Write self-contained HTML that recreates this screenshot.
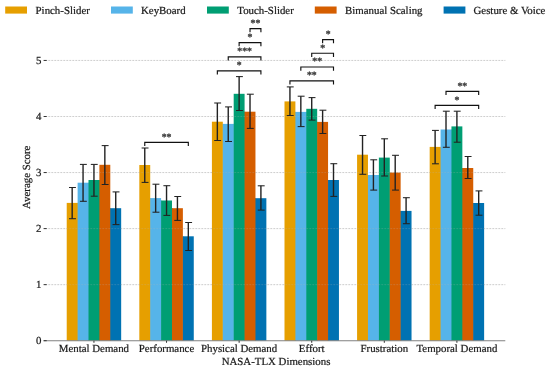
<!DOCTYPE html>
<html><head><meta charset="utf-8"><style>
html,body{margin:0;padding:0;background:#fff;}
body{width:550px;height:370px;overflow:hidden;}
svg{display:block;will-change:transform;}
text{text-rendering:geometricPrecision;stroke:#1a1a1a;stroke-width:0.22px;}
.t{font-family:"Liberation Serif",serif;font-size:10.85px;fill:#1a1a1a;}
.s{font-family:"Liberation Serif",serif;font-size:9.7px;fill:#444;stroke:#444;stroke-width:0.45px;}
</style></head><body>
<svg width="550" height="370" viewBox="0 0 550 370">
<rect width="550" height="370" fill="#fff"/>
<line x1="43.5" y1="284.65" x2="505.3" y2="284.65" stroke="#a8a8a8" stroke-opacity="0.6" stroke-width="0.8" stroke-dasharray="1.8,1.2" stroke-dashoffset="1.1"/>
<line x1="43.5" y1="228.60" x2="505.3" y2="228.60" stroke="#a8a8a8" stroke-opacity="0.6" stroke-width="0.8" stroke-dasharray="1.8,1.2" stroke-dashoffset="1.1"/>
<line x1="43.5" y1="172.55" x2="505.3" y2="172.55" stroke="#a8a8a8" stroke-opacity="0.6" stroke-width="0.8" stroke-dasharray="1.8,1.2" stroke-dashoffset="1.1"/>
<line x1="43.5" y1="116.50" x2="505.3" y2="116.50" stroke="#a8a8a8" stroke-opacity="0.6" stroke-width="0.8" stroke-dasharray="1.8,1.2" stroke-dashoffset="1.1"/>
<line x1="43.5" y1="60.45" x2="505.3" y2="60.45" stroke="#a8a8a8" stroke-opacity="0.6" stroke-width="0.8" stroke-dasharray="1.8,1.2" stroke-dashoffset="1.1"/>
<rect x="66.72" y="202.90" width="10.89" height="137.80" fill="#E69F00"/>
<rect x="77.11" y="202.90" width="1.1" height="137.80" fill="#E69F00"/>
<rect x="77.62" y="182.70" width="10.89" height="158.00" fill="#56B4E9"/>
<rect x="88.01" y="182.70" width="1.1" height="158.00" fill="#56B4E9"/>
<rect x="88.50" y="180.00" width="10.89" height="160.70" fill="#009E73"/>
<rect x="98.89" y="180.00" width="1.1" height="160.70" fill="#009E73"/>
<rect x="99.40" y="164.80" width="10.89" height="175.90" fill="#D55E00"/>
<rect x="109.79" y="208.20" width="1.1" height="132.50" fill="#D55E00"/>
<rect x="110.28" y="208.20" width="10.89" height="132.50" fill="#0072B2"/>
<rect x="139.32" y="165.00" width="10.89" height="175.70" fill="#E69F00"/>
<rect x="149.71" y="198.10" width="1.1" height="142.60" fill="#E69F00"/>
<rect x="150.21" y="198.10" width="10.89" height="142.60" fill="#56B4E9"/>
<rect x="160.60" y="200.50" width="1.1" height="140.20" fill="#56B4E9"/>
<rect x="161.10" y="200.50" width="10.89" height="140.20" fill="#009E73"/>
<rect x="171.49" y="208.20" width="1.1" height="132.50" fill="#009E73"/>
<rect x="171.99" y="208.20" width="10.89" height="132.50" fill="#D55E00"/>
<rect x="182.38" y="236.30" width="1.1" height="104.40" fill="#D55E00"/>
<rect x="182.88" y="236.30" width="10.89" height="104.40" fill="#0072B2"/>
<rect x="211.91" y="121.70" width="10.89" height="219.00" fill="#E69F00"/>
<rect x="222.30" y="123.90" width="1.1" height="216.80" fill="#E69F00"/>
<rect x="222.79" y="123.90" width="10.89" height="216.80" fill="#56B4E9"/>
<rect x="233.19" y="123.90" width="1.1" height="216.80" fill="#56B4E9"/>
<rect x="233.69" y="93.80" width="10.89" height="246.90" fill="#009E73"/>
<rect x="244.07" y="111.70" width="1.1" height="229.00" fill="#009E73"/>
<rect x="244.57" y="111.70" width="10.89" height="229.00" fill="#D55E00"/>
<rect x="254.96" y="198.20" width="1.1" height="142.50" fill="#D55E00"/>
<rect x="255.47" y="198.20" width="10.89" height="142.50" fill="#0072B2"/>
<rect x="284.50" y="101.40" width="10.89" height="239.30" fill="#E69F00"/>
<rect x="294.88" y="111.90" width="1.1" height="228.80" fill="#E69F00"/>
<rect x="295.39" y="111.90" width="10.89" height="228.80" fill="#56B4E9"/>
<rect x="305.78" y="111.90" width="1.1" height="228.80" fill="#56B4E9"/>
<rect x="306.28" y="108.80" width="10.89" height="231.90" fill="#009E73"/>
<rect x="316.67" y="121.90" width="1.1" height="218.80" fill="#009E73"/>
<rect x="317.17" y="121.90" width="10.89" height="218.80" fill="#D55E00"/>
<rect x="327.56" y="180.00" width="1.1" height="160.70" fill="#D55E00"/>
<rect x="328.06" y="180.00" width="10.89" height="160.70" fill="#0072B2"/>
<rect x="357.08" y="154.70" width="10.89" height="186.00" fill="#E69F00"/>
<rect x="367.47" y="175.00" width="1.1" height="165.70" fill="#E69F00"/>
<rect x="367.98" y="175.00" width="10.89" height="165.70" fill="#56B4E9"/>
<rect x="378.37" y="175.00" width="1.1" height="165.70" fill="#56B4E9"/>
<rect x="378.87" y="157.60" width="10.89" height="183.10" fill="#009E73"/>
<rect x="389.25" y="172.60" width="1.1" height="168.10" fill="#009E73"/>
<rect x="389.75" y="172.60" width="10.89" height="168.10" fill="#D55E00"/>
<rect x="400.14" y="210.90" width="1.1" height="129.80" fill="#D55E00"/>
<rect x="400.64" y="210.90" width="10.89" height="129.80" fill="#0072B2"/>
<rect x="429.68" y="146.90" width="10.89" height="193.80" fill="#E69F00"/>
<rect x="440.06" y="146.90" width="1.1" height="193.80" fill="#E69F00"/>
<rect x="440.57" y="129.50" width="10.89" height="211.20" fill="#56B4E9"/>
<rect x="450.96" y="129.50" width="1.1" height="211.20" fill="#56B4E9"/>
<rect x="451.46" y="126.40" width="10.89" height="214.30" fill="#009E73"/>
<rect x="461.85" y="168.00" width="1.1" height="172.70" fill="#009E73"/>
<rect x="462.35" y="168.00" width="10.89" height="172.70" fill="#D55E00"/>
<rect x="472.74" y="203.00" width="1.1" height="137.70" fill="#D55E00"/>
<rect x="473.24" y="203.00" width="10.89" height="137.70" fill="#0072B2"/>
<line x1="43.5" y1="284.65" x2="505.3" y2="284.65" stroke="#b8b8b8" stroke-opacity="0.3" stroke-width="0.8" stroke-dasharray="1.8,1.2" stroke-dashoffset="1.1"/>
<line x1="43.5" y1="228.60" x2="505.3" y2="228.60" stroke="#b8b8b8" stroke-opacity="0.3" stroke-width="0.8" stroke-dasharray="1.8,1.2" stroke-dashoffset="1.1"/>
<line x1="43.5" y1="172.55" x2="505.3" y2="172.55" stroke="#b8b8b8" stroke-opacity="0.3" stroke-width="0.8" stroke-dasharray="1.8,1.2" stroke-dashoffset="1.1"/>
<line x1="43.5" y1="116.50" x2="505.3" y2="116.50" stroke="#b8b8b8" stroke-opacity="0.3" stroke-width="0.8" stroke-dasharray="1.8,1.2" stroke-dashoffset="1.1"/>
<line x1="43.5" y1="60.45" x2="505.3" y2="60.45" stroke="#b8b8b8" stroke-opacity="0.3" stroke-width="0.8" stroke-dasharray="1.8,1.2" stroke-dashoffset="1.1"/>
<line x1="72.17" y1="187.50" x2="72.17" y2="218.70" stroke="#222" stroke-width="1.4"/>
<line x1="69.02" y1="187.50" x2="75.92" y2="187.50" stroke="#222" stroke-width="1.05"/>
<line x1="69.02" y1="218.70" x2="75.92" y2="218.70" stroke="#222" stroke-width="1.05"/>
<line x1="83.06" y1="164.40" x2="83.06" y2="201.30" stroke="#222" stroke-width="1.4"/>
<line x1="79.91" y1="164.40" x2="86.81" y2="164.40" stroke="#222" stroke-width="1.05"/>
<line x1="79.91" y1="201.30" x2="86.81" y2="201.30" stroke="#222" stroke-width="1.05"/>
<line x1="93.95" y1="164.40" x2="93.95" y2="196.20" stroke="#222" stroke-width="1.4"/>
<line x1="90.80" y1="164.40" x2="97.70" y2="164.40" stroke="#222" stroke-width="1.05"/>
<line x1="90.80" y1="196.20" x2="97.70" y2="196.20" stroke="#222" stroke-width="1.05"/>
<line x1="104.84" y1="145.60" x2="104.84" y2="184.50" stroke="#222" stroke-width="1.4"/>
<line x1="101.69" y1="145.60" x2="108.59" y2="145.60" stroke="#222" stroke-width="1.05"/>
<line x1="101.69" y1="184.50" x2="108.59" y2="184.50" stroke="#222" stroke-width="1.05"/>
<line x1="115.73" y1="191.90" x2="115.73" y2="224.60" stroke="#222" stroke-width="1.4"/>
<line x1="112.58" y1="191.90" x2="119.48" y2="191.90" stroke="#222" stroke-width="1.05"/>
<line x1="112.58" y1="224.60" x2="119.48" y2="224.60" stroke="#222" stroke-width="1.05"/>
<line x1="144.76" y1="148.00" x2="144.76" y2="182.40" stroke="#222" stroke-width="1.4"/>
<line x1="141.61" y1="148.00" x2="148.51" y2="148.00" stroke="#222" stroke-width="1.05"/>
<line x1="141.61" y1="182.40" x2="148.51" y2="182.40" stroke="#222" stroke-width="1.05"/>
<line x1="155.65" y1="184.20" x2="155.65" y2="212.20" stroke="#222" stroke-width="1.4"/>
<line x1="152.50" y1="184.20" x2="159.40" y2="184.20" stroke="#222" stroke-width="1.05"/>
<line x1="152.50" y1="212.20" x2="159.40" y2="212.20" stroke="#222" stroke-width="1.05"/>
<line x1="166.54" y1="185.70" x2="166.54" y2="215.40" stroke="#222" stroke-width="1.4"/>
<line x1="163.39" y1="185.70" x2="170.29" y2="185.70" stroke="#222" stroke-width="1.05"/>
<line x1="163.39" y1="215.40" x2="170.29" y2="215.40" stroke="#222" stroke-width="1.05"/>
<line x1="177.43" y1="196.50" x2="177.43" y2="220.40" stroke="#222" stroke-width="1.4"/>
<line x1="174.28" y1="196.50" x2="181.18" y2="196.50" stroke="#222" stroke-width="1.05"/>
<line x1="174.28" y1="220.40" x2="181.18" y2="220.40" stroke="#222" stroke-width="1.05"/>
<line x1="188.32" y1="222.50" x2="188.32" y2="250.50" stroke="#222" stroke-width="1.4"/>
<line x1="185.17" y1="222.50" x2="192.07" y2="222.50" stroke="#222" stroke-width="1.05"/>
<line x1="185.17" y1="250.50" x2="192.07" y2="250.50" stroke="#222" stroke-width="1.05"/>
<line x1="217.35" y1="103.00" x2="217.35" y2="140.50" stroke="#222" stroke-width="1.4"/>
<line x1="214.20" y1="103.00" x2="221.10" y2="103.00" stroke="#222" stroke-width="1.05"/>
<line x1="214.20" y1="140.50" x2="221.10" y2="140.50" stroke="#222" stroke-width="1.05"/>
<line x1="228.24" y1="106.90" x2="228.24" y2="141.50" stroke="#222" stroke-width="1.4"/>
<line x1="225.09" y1="106.90" x2="231.99" y2="106.90" stroke="#222" stroke-width="1.05"/>
<line x1="225.09" y1="141.50" x2="231.99" y2="141.50" stroke="#222" stroke-width="1.05"/>
<line x1="239.13" y1="76.60" x2="239.13" y2="110.50" stroke="#222" stroke-width="1.4"/>
<line x1="235.98" y1="76.60" x2="242.88" y2="76.60" stroke="#222" stroke-width="1.05"/>
<line x1="235.98" y1="110.50" x2="242.88" y2="110.50" stroke="#222" stroke-width="1.05"/>
<line x1="250.02" y1="94.20" x2="250.02" y2="128.40" stroke="#222" stroke-width="1.4"/>
<line x1="246.87" y1="94.20" x2="253.77" y2="94.20" stroke="#222" stroke-width="1.05"/>
<line x1="246.87" y1="128.40" x2="253.77" y2="128.40" stroke="#222" stroke-width="1.05"/>
<line x1="260.91" y1="185.80" x2="260.91" y2="210.10" stroke="#222" stroke-width="1.4"/>
<line x1="257.76" y1="185.80" x2="264.66" y2="185.80" stroke="#222" stroke-width="1.05"/>
<line x1="257.76" y1="210.10" x2="264.66" y2="210.10" stroke="#222" stroke-width="1.05"/>
<line x1="289.94" y1="86.90" x2="289.94" y2="115.50" stroke="#222" stroke-width="1.4"/>
<line x1="286.79" y1="86.90" x2="293.69" y2="86.90" stroke="#222" stroke-width="1.05"/>
<line x1="286.79" y1="115.50" x2="293.69" y2="115.50" stroke="#222" stroke-width="1.05"/>
<line x1="300.83" y1="96.20" x2="300.83" y2="126.60" stroke="#222" stroke-width="1.4"/>
<line x1="297.68" y1="96.20" x2="304.58" y2="96.20" stroke="#222" stroke-width="1.05"/>
<line x1="297.68" y1="126.60" x2="304.58" y2="126.60" stroke="#222" stroke-width="1.05"/>
<line x1="311.72" y1="97.60" x2="311.72" y2="120.10" stroke="#222" stroke-width="1.4"/>
<line x1="308.57" y1="97.60" x2="315.47" y2="97.60" stroke="#222" stroke-width="1.05"/>
<line x1="308.57" y1="120.10" x2="315.47" y2="120.10" stroke="#222" stroke-width="1.05"/>
<line x1="322.61" y1="110.20" x2="322.61" y2="133.50" stroke="#222" stroke-width="1.4"/>
<line x1="319.46" y1="110.20" x2="326.36" y2="110.20" stroke="#222" stroke-width="1.05"/>
<line x1="319.46" y1="133.50" x2="326.36" y2="133.50" stroke="#222" stroke-width="1.05"/>
<line x1="333.50" y1="163.70" x2="333.50" y2="196.40" stroke="#222" stroke-width="1.4"/>
<line x1="330.35" y1="163.70" x2="337.25" y2="163.70" stroke="#222" stroke-width="1.05"/>
<line x1="330.35" y1="196.40" x2="337.25" y2="196.40" stroke="#222" stroke-width="1.05"/>
<line x1="362.53" y1="135.50" x2="362.53" y2="174.30" stroke="#222" stroke-width="1.4"/>
<line x1="359.38" y1="135.50" x2="366.28" y2="135.50" stroke="#222" stroke-width="1.05"/>
<line x1="359.38" y1="174.30" x2="366.28" y2="174.30" stroke="#222" stroke-width="1.05"/>
<line x1="373.42" y1="159.80" x2="373.42" y2="190.10" stroke="#222" stroke-width="1.4"/>
<line x1="370.27" y1="159.80" x2="377.17" y2="159.80" stroke="#222" stroke-width="1.05"/>
<line x1="370.27" y1="190.10" x2="377.17" y2="190.10" stroke="#222" stroke-width="1.05"/>
<line x1="384.31" y1="138.80" x2="384.31" y2="176.00" stroke="#222" stroke-width="1.4"/>
<line x1="381.16" y1="138.80" x2="388.06" y2="138.80" stroke="#222" stroke-width="1.05"/>
<line x1="381.16" y1="176.00" x2="388.06" y2="176.00" stroke="#222" stroke-width="1.05"/>
<line x1="395.20" y1="155.30" x2="395.20" y2="190.10" stroke="#222" stroke-width="1.4"/>
<line x1="392.05" y1="155.30" x2="398.95" y2="155.30" stroke="#222" stroke-width="1.05"/>
<line x1="392.05" y1="190.10" x2="398.95" y2="190.10" stroke="#222" stroke-width="1.05"/>
<line x1="406.09" y1="197.70" x2="406.09" y2="223.70" stroke="#222" stroke-width="1.4"/>
<line x1="402.94" y1="197.70" x2="409.84" y2="197.70" stroke="#222" stroke-width="1.05"/>
<line x1="402.94" y1="223.70" x2="409.84" y2="223.70" stroke="#222" stroke-width="1.05"/>
<line x1="435.12" y1="130.40" x2="435.12" y2="163.80" stroke="#222" stroke-width="1.4"/>
<line x1="431.97" y1="130.40" x2="438.87" y2="130.40" stroke="#222" stroke-width="1.05"/>
<line x1="431.97" y1="163.80" x2="438.87" y2="163.80" stroke="#222" stroke-width="1.05"/>
<line x1="446.01" y1="111.20" x2="446.01" y2="147.30" stroke="#222" stroke-width="1.4"/>
<line x1="442.86" y1="111.20" x2="449.76" y2="111.20" stroke="#222" stroke-width="1.05"/>
<line x1="442.86" y1="147.30" x2="449.76" y2="147.30" stroke="#222" stroke-width="1.05"/>
<line x1="456.90" y1="111.20" x2="456.90" y2="142.20" stroke="#222" stroke-width="1.4"/>
<line x1="453.75" y1="111.20" x2="460.65" y2="111.20" stroke="#222" stroke-width="1.05"/>
<line x1="453.75" y1="142.20" x2="460.65" y2="142.20" stroke="#222" stroke-width="1.05"/>
<line x1="467.79" y1="156.50" x2="467.79" y2="178.50" stroke="#222" stroke-width="1.4"/>
<line x1="464.64" y1="156.50" x2="471.54" y2="156.50" stroke="#222" stroke-width="1.05"/>
<line x1="464.64" y1="178.50" x2="471.54" y2="178.50" stroke="#222" stroke-width="1.05"/>
<line x1="478.68" y1="190.90" x2="478.68" y2="215.20" stroke="#222" stroke-width="1.4"/>
<line x1="475.53" y1="190.90" x2="482.43" y2="190.90" stroke="#222" stroke-width="1.05"/>
<line x1="475.53" y1="215.20" x2="482.43" y2="215.20" stroke="#222" stroke-width="1.05"/>
<line x1="43.5" y1="340.7" x2="505.3" y2="340.7" stroke="#808080" stroke-width="1.1"/>
<line x1="43.7" y1="340.70" x2="46.7" y2="340.70" stroke="#333" stroke-width="1"/>
<text x="41.4" y="344.30" text-anchor="end" class="t">0</text>
<line x1="43.7" y1="284.65" x2="46.7" y2="284.65" stroke="#333" stroke-width="1"/>
<text x="41.4" y="288.25" text-anchor="end" class="t">1</text>
<line x1="43.7" y1="228.60" x2="46.7" y2="228.60" stroke="#333" stroke-width="1"/>
<text x="41.4" y="232.20" text-anchor="end" class="t">2</text>
<line x1="43.7" y1="172.55" x2="46.7" y2="172.55" stroke="#333" stroke-width="1"/>
<text x="41.4" y="176.15" text-anchor="end" class="t">3</text>
<line x1="43.7" y1="116.50" x2="46.7" y2="116.50" stroke="#333" stroke-width="1"/>
<text x="41.4" y="120.10" text-anchor="end" class="t">4</text>
<line x1="43.7" y1="60.45" x2="46.7" y2="60.45" stroke="#333" stroke-width="1"/>
<text x="41.4" y="64.05" text-anchor="end" class="t">5</text>
<line x1="93.95" y1="340.7" x2="93.95" y2="342.8" stroke="#333" stroke-width="1"/>
<text x="93.95" y="352.1" text-anchor="middle" class="t">Mental Demand</text>
<line x1="166.54" y1="340.7" x2="166.54" y2="342.8" stroke="#333" stroke-width="1"/>
<text x="166.54" y="352.1" text-anchor="middle" class="t">Performance</text>
<line x1="239.13" y1="340.7" x2="239.13" y2="342.8" stroke="#333" stroke-width="1"/>
<text x="239.13" y="352.1" text-anchor="middle" class="t">Physical Demand</text>
<line x1="311.72" y1="340.7" x2="311.72" y2="342.8" stroke="#333" stroke-width="1"/>
<text x="311.72" y="352.1" text-anchor="middle" class="t">Effort</text>
<line x1="384.31" y1="340.7" x2="384.31" y2="342.8" stroke="#333" stroke-width="1"/>
<text x="384.31" y="352.1" text-anchor="middle" class="t">Frustration</text>
<line x1="456.90" y1="340.7" x2="456.90" y2="342.8" stroke="#333" stroke-width="1"/>
<text x="456.90" y="352.1" text-anchor="middle" class="t">Temporal Demand</text>
<text x="276.0" y="364.5" text-anchor="middle" class="t">NASA-TLX Dimensions</text>
<text transform="translate(30.1 177.3) rotate(-90)" text-anchor="middle" class="t">Average Score</text>
<path d="M144.76 145.40V142.30H188.32V145.40" fill="none" stroke="#111" stroke-width="1.15" stroke-linecap="square"/>
<text x="166.54" y="139.60" text-anchor="middle" class="s">**</text>
<path d="M217.35 73.90V70.80H260.91V73.90" fill="none" stroke="#111" stroke-width="1.15" stroke-linecap="square"/>
<text x="239.13" y="68.10" text-anchor="middle" class="s">*</text>
<path d="M228.24 59.90V56.80H260.91V59.90" fill="none" stroke="#111" stroke-width="1.15" stroke-linecap="square"/>
<text x="244.57" y="54.10" text-anchor="middle" class="s">***</text>
<path d="M239.13 45.70V42.60H260.91V45.70" fill="none" stroke="#111" stroke-width="1.15" stroke-linecap="square"/>
<text x="250.02" y="39.90" text-anchor="middle" class="s">*</text>
<path d="M250.02 31.70V28.60H260.91V31.70" fill="none" stroke="#111" stroke-width="1.15" stroke-linecap="square"/>
<text x="255.46" y="25.90" text-anchor="middle" class="s">**</text>
<path d="M289.94 83.90V80.80H333.50V83.90" fill="none" stroke="#111" stroke-width="1.15" stroke-linecap="square"/>
<text x="311.72" y="78.10" text-anchor="middle" class="s">**</text>
<path d="M300.83 70.10V67.00H333.50V70.10" fill="none" stroke="#111" stroke-width="1.15" stroke-linecap="square"/>
<text x="317.17" y="64.30" text-anchor="middle" class="s">**</text>
<path d="M311.72 56.30V53.20H333.50V56.30" fill="none" stroke="#111" stroke-width="1.15" stroke-linecap="square"/>
<text x="322.61" y="50.50" text-anchor="middle" class="s">*</text>
<path d="M322.61 42.70V39.60H333.50V42.70" fill="none" stroke="#111" stroke-width="1.15" stroke-linecap="square"/>
<text x="328.06" y="36.90" text-anchor="middle" class="s">*</text>
<path d="M435.12 108.50V105.40H478.68V108.50" fill="none" stroke="#111" stroke-width="1.15" stroke-linecap="square"/>
<text x="456.90" y="102.70" text-anchor="middle" class="s">*</text>
<path d="M446.01 94.50V91.40H478.68V94.50" fill="none" stroke="#111" stroke-width="1.15" stroke-linecap="square"/>
<text x="462.35" y="88.70" text-anchor="middle" class="s">**</text>
<rect x="5.2" y="6.5" width="21.8" height="7.1" fill="#E69F00"/>
<text x="35.6" y="13.8" class="t">Pinch-Slider</text>
<rect x="111.0" y="6.5" width="21.8" height="7.1" fill="#56B4E9"/>
<text x="141.0" y="13.8" class="t">KeyBoard</text>
<rect x="207.0" y="6.5" width="21.8" height="7.1" fill="#009E73"/>
<text x="237.3" y="13.8" class="t">Touch-Slider</text>
<rect x="314.8" y="6.5" width="21.8" height="7.1" fill="#D55E00"/>
<text x="345.1" y="13.8" class="t">Bimanual Scaling</text>
<rect x="443.6" y="6.5" width="21.8" height="7.1" fill="#0072B2"/>
<text x="473.5" y="13.8" class="t">Gesture &amp; Voice</text>
</svg>
</body></html>
